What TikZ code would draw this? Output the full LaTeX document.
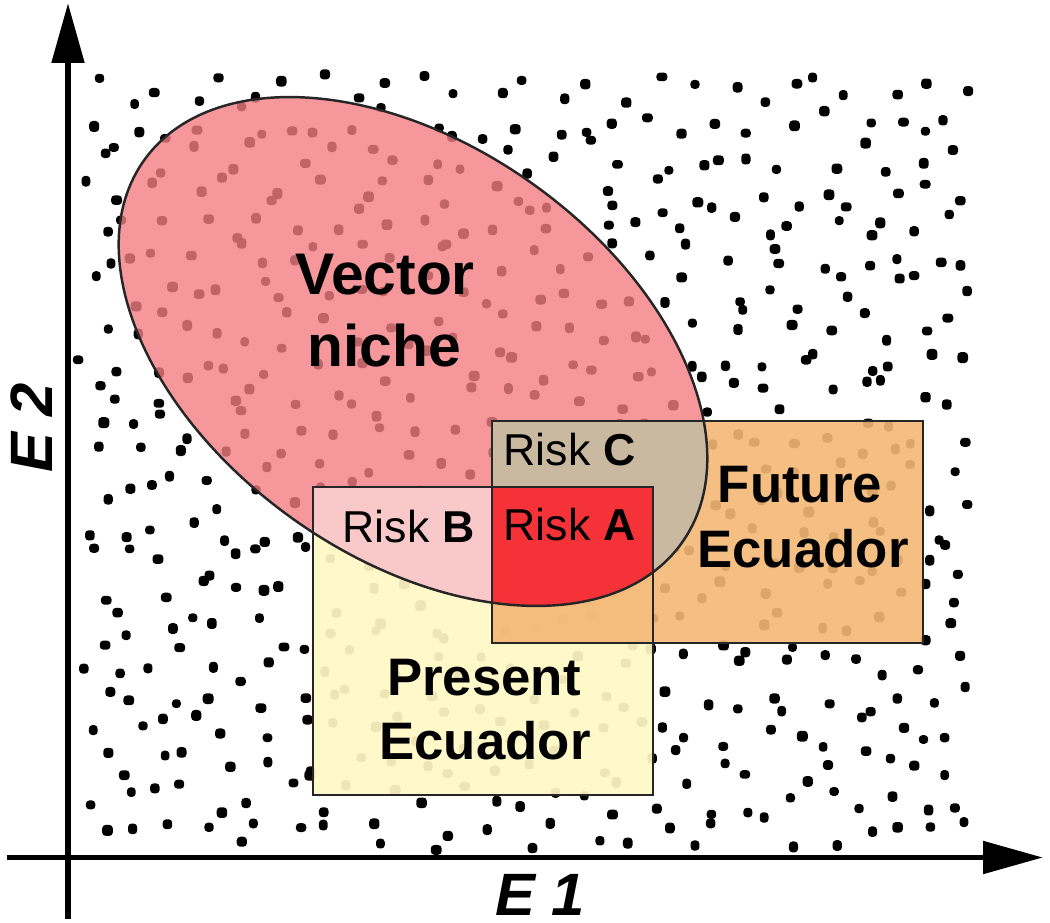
\documentclass[tikz,border=0pt]{standalone}
\usepackage{fontspec}
\setmainfont{Liberation Sans}
\usetikzlibrary{arrows.meta}
\definecolor{pinkF}{RGB}{242,125,130}
\definecolor{presF}{RGB}{255,247,196}
\definecolor{futF}{RGB}{244,183,117}
\definecolor{riskAc}{RGB}{245,50,56}
\definecolor{riskBc}{RGB}{249,200,201}
\definecolor{riskCc}{RGB}{201,185,160}
\begin{document}
\begin{tikzpicture}[x=0.01cm,y=0.01cm,
  axis/.style={line width=1.7pt, -{Triangle[length=17pt,width=9pt]}},
  outline/.style={draw=black!85, line width=0.7pt},
  dot/.style={fill=black, rounded corners=1pt},
  niche/.style={rotate around={-35.4:(413,571.5)}},
  big/.style={font=\fontsize{16.7}{20}\selectfont\bfseries},
  mid/.style={font=\fontsize{15}{18}\selectfont\bfseries},
  risk/.style={font=\fontsize{12.7}{15}\selectfont, inner sep=0pt},
  axlabel/.style={font=\fontsize{17}{20}\selectfont\bfseries\itshape, inner sep=0pt}]
\useasboundingbox (0,0) rectangle (1050,923);
% background dot field
\pgfmathsetseed{4217}
\foreach \c in {0,...,26}{
  \foreach \r in {0,...,22}{
    \pgfmathsetmacro{\dx}{78+(\c+rnd)*33.2}
    \pgfmathsetmacro{\dy}{73+(\r+rnd)*33.8}
    \pgfmathsetmacro{\dw}{4.3+1.2*rnd}
    \pgfmathsetmacro{\dh}{4.3+1.2*rnd}
    \fill[dot] (\dx-\dw,\dy-\dh) rectangle (\dx+\dw,\dy+\dh);
  }
}
% translucent areas
\fill[pinkF, fill opacity=0.8, niche] (413,571.5) ellipse[x radius=330, y radius=206];
\fill[presF, fill opacity=0.93] (313,128) rectangle (653,436);
\fill[futF, fill opacity=0.9] (492,280) rectangle (923,502);
% risk B
\begin{scope}
  \clip (313,128) rectangle (653,436);
  \fill[riskBc, niche] (413,571.5) ellipse[x radius=330, y radius=206];
\end{scope}
% risk C
\begin{scope}
  \clip (492,280) rectangle (923,502);
  \fill[riskCc, niche] (413,571.5) ellipse[x radius=330, y radius=206];
\end{scope}
% risk A
\begin{scope}
  \clip (492,280) rectangle (653,436);
  \fill[riskAc, niche] (413,571.5) ellipse[x radius=330, y radius=206];
\end{scope}
% outlines
\draw[outline] (313,128) rectangle (653,436);
\draw[outline] (492,280) rectangle (923,502);
\draw[outline, niche] (413,571.5) ellipse[x radius=330, y radius=206];
% axes
\coordinate (ybot) at (68,4);
\coordinate (ytop) at (68,920);
\coordinate (xl) at (7,65.5);
\coordinate (xr) at (1043,65.5);
\draw[axis] (ybot) -- (ytop);
\draw[axis] (xl) -- (xr);
% labels
\node[big, anchor=base] (vec) at (385,629) {Vector};
\node[big, anchor=base] (nic) at (384,557) {niche};
\node[risk, anchor=base west] (rc) at (503,458) {Risk \textbf{C}};
\node[risk, anchor=base west] (ra) at (503,383) {Risk \textbf{A}};
\node[risk, anchor=base west] (rb) at (342,380) {Risk \textbf{B}};
\node[mid, anchor=base] (fu) at (800,421) {Future};
\node[mid, anchor=base] (fe) at (803,356) {Ecuador};
\node[mid, anchor=base] (pr) at (484,228) {Present};
\node[mid, anchor=base] (pe) at (485,163) {Ecuador};
\node[axlabel, anchor=base] (e1) at (540,8) {E 1};
\node[axlabel, anchor=base, rotate=90] (e2) at (53,495) {E 2};
\end{tikzpicture}
\end{document}
